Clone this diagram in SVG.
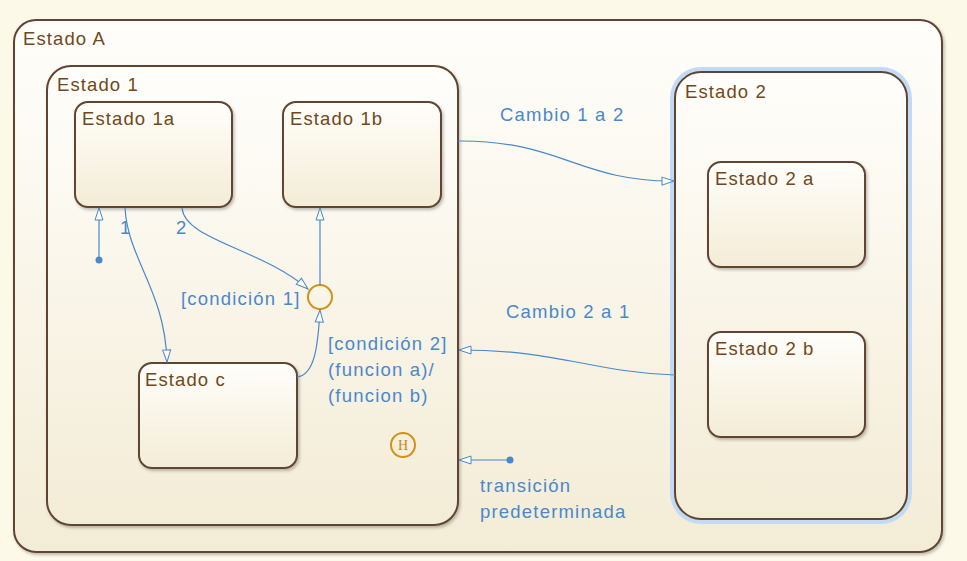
<svg xmlns="http://www.w3.org/2000/svg" width="967" height="561" viewBox="0 0 967 561">
<defs>
<linearGradient id="g" x1="0" y1="0" x2="0" y2="1"><stop offset="0" stop-color="#fffefb"/><stop offset="1" stop-color="#f3ecd6"/></linearGradient>
<marker id="a" markerWidth="14" markerHeight="10" refX="13" refY="5" orient="auto" markerUnits="userSpaceOnUse"><path d="M1,1 L13,5 L1,9 Z" fill="#fdfbf3" stroke="#4a88cc" stroke-width="1"/></marker>
<filter id="sh" x="-5%" y="-5%" width="110%" height="115%"><feDropShadow dx="1.5" dy="2" stdDeviation="1.5" flood-color="#000" flood-opacity="0.25"/></filter>
</defs>
<style>
.s{fill:url(#g);stroke:#5e4530;stroke-width:2;filter:url(#sh)}
.t{font-family:"Liberation Sans",Arial,sans-serif;font-size:18.5px;letter-spacing:1.1px;fill:#70481a}
.l{font-family:"Liberation Sans",Arial,sans-serif;font-size:18.5px;letter-spacing:1.2px;fill:#4a88cc}
.c{fill:none;stroke:#4a88cc;stroke-width:1.2}
</style>
<rect width="967" height="561" fill="#fdf9e9"/>
<g id="estadoA"><rect class="s" x="14" y="20" width="928" height="532" rx="22"/><text class="t" x="23" y="45">Estado A</text></g>
<g id="estado1"><rect class="s" x="47" y="66" width="411" height="459" rx="24"/><text class="t" x="57" y="91">Estado 1</text></g>
<g id="estado1a"><rect class="s" x="75" y="102" width="157" height="105" rx="13"/><text class="t" x="82" y="125">Estado 1a</text></g>
<g id="estado1b"><rect class="s" x="283" y="102" width="158" height="105" rx="13"/><text class="t" x="290" y="125">Estado 1b</text></g>
<g id="estadoc"><rect class="s" x="139" y="363" width="158" height="105" rx="13"/><text class="t" x="145" y="386">Estado c</text></g>
<g id="estado2"><rect x="670" y="67" width="242" height="457" rx="31" fill="#c3daf6"/><rect x="675" y="72" width="232" height="447" rx="26" fill="url(#g)" stroke="#5e4530" stroke-width="2"/><text class="t" x="685" y="98">Estado 2</text></g>
<g id="estado2a"><rect class="s" x="708" y="162" width="157" height="105" rx="13"/><text class="t" x="715" y="185">Estado 2 a</text></g>
<g id="estado2b"><rect class="s" x="708" y="332" width="157" height="105" rx="13"/><text class="t" x="715" y="355">Estado 2 b</text></g>
<g id="junction"><circle cx="320" cy="297" r="12" fill="none" stroke="#d4901a" stroke-width="2"/></g>
<g id="history"><circle cx="403" cy="445" r="12" fill="none" stroke="#d4901a" stroke-width="2"/><text x="403" y="450" text-anchor="middle" font-family="Liberation Serif,serif" font-size="14" fill="#c8861a">H</text></g>
<g id="connectors">
<circle cx="99" cy="260" r="3.5" fill="#4a88cc"/><path class="c" d="M99,260 L99,208" marker-end="url(#a)"/>
<path class="c" d="M125,208 C128,260 165,290 167,362" marker-end="url(#a)"/>
<path class="c" d="M182,208 C185,240 260,248 308,289" marker-end="url(#a)"/>
<path class="c" d="M320,285 L320,208" marker-end="url(#a)"/>
<path class="c" d="M297,377 C315,375 318,345 320,310" marker-end="url(#a)"/>
<path class="c" d="M458,141 C560,140 580,182 674,181" marker-end="url(#a)"/>
<path class="c" d="M675,375 C590,372 560,350 459,350" marker-end="url(#a)"/>
<circle cx="510" cy="460" r="3.5" fill="#4a88cc"/><path class="c" d="M510,460 L459,460" marker-end="url(#a)"/>
<text class="l" x="120" y="234">1</text>
<text class="l" x="176" y="234">2</text>
<text class="l" x="181" y="305">[condición 1]</text>
<text class="l" x="328" y="350">[condición 2]</text>
<text class="l" x="328" y="376">(funcion a)/</text>
<text class="l" x="328" y="402">(funcion b)</text>
<text class="l" x="500" y="121">Cambio 1 a 2</text>
<text class="l" x="506" y="318">Cambio 2 a 1</text>
<text class="l" x="480" y="492">transición</text>
<text class="l" x="480" y="518">predeterminada</text>
</g>
</svg>
